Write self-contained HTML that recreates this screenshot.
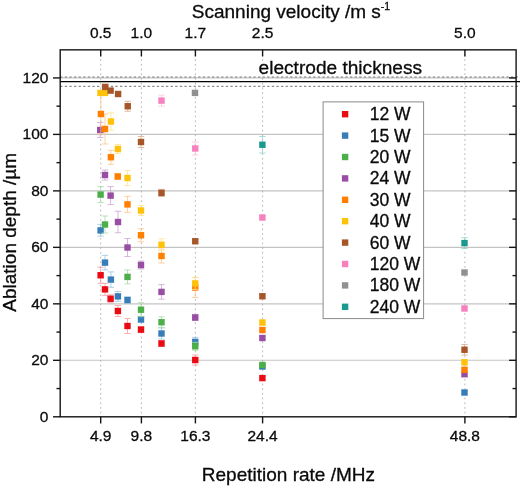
<!DOCTYPE html><html><head><meta charset="utf-8"><title>Ablation depth</title>
<style>html,body{margin:0;padding:0;background:#fff}svg{display:block}text{font-family:"Liberation Sans",Arial,sans-serif;fill:#0a0a0a;stroke:#0a0a0a;stroke-width:0.3px}</style></head><body>
<svg width="520" height="486" viewBox="0 0 520 486">
<rect width="520" height="486" fill="#fff"/>
<g stroke="#c4c4c4" stroke-width="1.1">
<line x1="60.2" x2="516.1" y1="360.32" y2="360.32"/>
<line x1="60.2" x2="516.1" y1="303.84" y2="303.84"/>
<line x1="60.2" x2="516.1" y1="247.36" y2="247.36"/>
<line x1="60.2" x2="516.1" y1="190.88" y2="190.88"/>
<line x1="60.2" x2="516.1" y1="134.40" y2="134.40"/>
<line x1="60.2" x2="516.1" y1="77.92" y2="77.92"/>
</g>
<g stroke="#a4a4a4" stroke-width="0.8" stroke-dasharray="1.7 3">
<line x1="100.7" x2="100.7" y1="49.85" y2="416.8"/>
<line x1="141.4" x2="141.4" y1="49.85" y2="416.8"/>
<line x1="195.4" x2="195.4" y1="49.85" y2="416.8"/>
<line x1="262.6" x2="262.6" y1="49.85" y2="416.8"/>
<line x1="464.9" x2="464.9" y1="49.85" y2="416.8"/>
</g>
<line x1="60.2" x2="520" y1="77.0" y2="77.0" stroke="#6a6a6a" stroke-width="0.9" stroke-dasharray="2.3 2.3"/>
<line x1="60.2" x2="520" y1="86.3" y2="86.3" stroke="#555" stroke-width="0.85" stroke-dasharray="2.3 2.3"/>
<line x1="60.2" x2="520" y1="81.6" y2="81.6" stroke="#000" stroke-width="1.45"/>
<g stroke="#f4a0a3" stroke-width="0.8" fill="none">
<path d="M100.6 267.25V283.25M97.40 267.25h6.4M97.40 283.25h6.4"/>
<path d="M105 283.40V295.40M101.80 283.40h6.4M101.80 295.40h6.4"/>
<path d="M110.6 294.75V302.75M107.40 294.75h6.4M107.40 302.75h6.4"/>
<path d="M117.9 305.50V316.50M114.70 305.50h6.4M114.70 316.50h6.4"/>
<path d="M127.5 318.50V333.50M124.30 318.50h6.4M124.30 333.50h6.4"/>
<path d="M141 326.60V332.60M137.80 326.60h6.4M137.80 332.60h6.4"/>
<path d="M161.5 340.50V346.50M158.30 340.50h6.4M158.30 346.50h6.4"/>
<path d="M195.25 355.00V365.00M192.05 355.00h6.4M192.05 365.00h6.4"/>
<path d="M262.4 376.10V380.10M259.20 376.10h6.4M259.20 380.10h6.4"/>
</g>
<g fill="#ea0a14">
<rect x="97.40" y="272.05" width="6.4" height="6.4"/>
<rect x="101.80" y="286.20" width="6.4" height="6.4"/>
<rect x="107.40" y="295.55" width="6.4" height="6.4"/>
<rect x="114.70" y="307.80" width="6.4" height="6.4"/>
<rect x="124.30" y="322.80" width="6.4" height="6.4"/>
<rect x="137.80" y="326.40" width="6.4" height="6.4"/>
<rect x="158.30" y="340.30" width="6.4" height="6.4"/>
<rect x="192.05" y="356.80" width="6.4" height="6.4"/>
<rect x="259.20" y="374.90" width="6.4" height="6.4"/>
</g>
<g stroke="#9cc4e4" stroke-width="0.8" fill="none">
<path d="M100.6 224.65V236.15M97.40 224.65h6.4M97.40 236.15h6.4"/>
<path d="M105 255.35V269.85M101.80 255.35h6.4M101.80 269.85h6.4"/>
<path d="M110.9 271.90V287.30M107.70 271.90h6.4M107.70 287.30h6.4"/>
<path d="M117.9 291.40V301.40M114.70 291.40h6.4M114.70 301.40h6.4"/>
<path d="M127.5 297.00V303.00M124.30 297.00h6.4M124.30 303.00h6.4"/>
<path d="M141 316.40V322.40M137.80 316.40h6.4M137.80 322.40h6.4"/>
<path d="M161.5 327.90V339.10M158.30 327.90h6.4M158.30 339.10h6.4"/>
<path d="M195.25 337.40V346.40M192.05 337.40h6.4M192.05 346.40h6.4"/>
<path d="M262.4 364.50V368.50M259.20 364.50h6.4M259.20 368.50h6.4"/>
<path d="M464.5 390.50V394.50M461.30 390.50h6.4M461.30 394.50h6.4"/>
</g>
<g fill="#377eb8">
<rect x="97.40" y="227.20" width="6.4" height="6.4"/>
<rect x="101.80" y="259.40" width="6.4" height="6.4"/>
<rect x="107.70" y="276.40" width="6.4" height="6.4"/>
<rect x="114.70" y="293.20" width="6.4" height="6.4"/>
<rect x="124.30" y="296.80" width="6.4" height="6.4"/>
<rect x="137.80" y="316.20" width="6.4" height="6.4"/>
<rect x="158.30" y="330.30" width="6.4" height="6.4"/>
<rect x="192.05" y="338.70" width="6.4" height="6.4"/>
<rect x="259.20" y="363.30" width="6.4" height="6.4"/>
<rect x="461.30" y="389.30" width="6.4" height="6.4"/>
</g>
<g stroke="#a8dba6" stroke-width="0.8" fill="none">
<path d="M100.6 186.60V202.60M97.40 186.60h6.4M97.40 202.60h6.4"/>
<path d="M105 216.00V233.00M101.80 216.00h6.4M101.80 233.00h6.4"/>
<path d="M127.5 269.90V283.90M124.30 269.90h6.4M124.30 283.90h6.4"/>
<path d="M141 302.70V316.70M137.80 302.70h6.4M137.80 316.70h6.4"/>
<path d="M161.5 316.85V327.65M158.30 316.85h6.4M158.30 327.65h6.4"/>
<path d="M195.25 342.25V350.25M192.05 342.25h6.4M192.05 350.25h6.4"/>
<path d="M262.4 363.00V367.00M259.20 363.00h6.4M259.20 367.00h6.4"/>
</g>
<g fill="#4daf4a">
<rect x="97.40" y="191.40" width="6.4" height="6.4"/>
<rect x="101.80" y="221.30" width="6.4" height="6.4"/>
<rect x="124.30" y="273.70" width="6.4" height="6.4"/>
<rect x="137.80" y="306.50" width="6.4" height="6.4"/>
<rect x="158.30" y="319.05" width="6.4" height="6.4"/>
<rect x="192.05" y="343.05" width="6.4" height="6.4"/>
<rect x="259.20" y="361.80" width="6.4" height="6.4"/>
</g>
<g stroke="#cfa5d6" stroke-width="0.8" fill="none">
<path d="M100.25 122.50V137.50M97.05 122.50h6.4M97.05 137.50h6.4"/>
<path d="M105 170.00V180.00M101.80 170.00h6.4M101.80 180.00h6.4"/>
<path d="M110.6 186.60V204.60M107.40 186.60h6.4M107.40 204.60h6.4"/>
<path d="M118 211.25V232.75M114.80 211.25h6.4M114.80 232.75h6.4"/>
<path d="M127.5 238.50V256.50M124.30 238.50h6.4M124.30 256.50h6.4"/>
<path d="M141 261.00V269.00M137.80 261.00h6.4M137.80 269.00h6.4"/>
<path d="M161.5 284.60V299.20M158.30 284.60h6.4M158.30 299.20h6.4"/>
<path d="M195.25 314.50V320.50M192.05 314.50h6.4M192.05 320.50h6.4"/>
<path d="M262.4 336.00V340.00M259.20 336.00h6.4M259.20 340.00h6.4"/>
<path d="M464.5 372.20V376.20M461.30 372.20h6.4M461.30 376.20h6.4"/>
</g>
<g fill="#984ea3">
<rect x="97.05" y="126.80" width="6.4" height="6.4"/>
<rect x="101.80" y="171.80" width="6.4" height="6.4"/>
<rect x="107.40" y="192.40" width="6.4" height="6.4"/>
<rect x="114.80" y="218.80" width="6.4" height="6.4"/>
<rect x="124.30" y="244.30" width="6.4" height="6.4"/>
<rect x="137.80" y="261.80" width="6.4" height="6.4"/>
<rect x="158.30" y="288.70" width="6.4" height="6.4"/>
<rect x="192.05" y="314.30" width="6.4" height="6.4"/>
<rect x="259.20" y="334.80" width="6.4" height="6.4"/>
<rect x="461.30" y="371.00" width="6.4" height="6.4"/>
</g>
<g stroke="#ffc48a" stroke-width="0.8" fill="none">
<path d="M100.9 94.00V134.00M97.70 94.00h6.4M97.70 134.00h6.4"/>
<path d="M105 114.00V144.00M101.80 114.00h6.4M101.80 144.00h6.4"/>
<path d="M110.9 150.25V164.25M107.70 150.25h6.4M107.70 164.25h6.4"/>
<path d="M117.75 173.50V179.50M114.55 173.50h6.4M114.55 179.50h6.4"/>
<path d="M127.5 196.40V212.40M124.30 196.40h6.4M124.30 212.40h6.4"/>
<path d="M141 228.75V241.75M137.80 228.75h6.4M137.80 241.75h6.4"/>
<path d="M161.5 249.00V263.00M158.30 249.00h6.4M158.30 263.00h6.4"/>
<path d="M195.25 277.50V297.50M192.05 277.50h6.4M192.05 297.50h6.4"/>
<path d="M262.4 328.00V332.00M259.20 328.00h6.4M259.20 332.00h6.4"/>
<path d="M464.5 367.80V371.80M461.30 367.80h6.4M461.30 371.80h6.4"/>
</g>
<g fill="#ff7f00">
<rect x="97.70" y="110.80" width="6.4" height="6.4"/>
<rect x="101.80" y="125.80" width="6.4" height="6.4"/>
<rect x="107.70" y="154.05" width="6.4" height="6.4"/>
<rect x="114.55" y="173.30" width="6.4" height="6.4"/>
<rect x="124.30" y="201.20" width="6.4" height="6.4"/>
<rect x="137.80" y="232.05" width="6.4" height="6.4"/>
<rect x="158.30" y="252.80" width="6.4" height="6.4"/>
<rect x="192.05" y="284.30" width="6.4" height="6.4"/>
<rect x="259.20" y="326.80" width="6.4" height="6.4"/>
<rect x="461.30" y="366.60" width="6.4" height="6.4"/>
</g>
<g stroke="#ffe38f" stroke-width="0.8" fill="none">
<path d="M100.5 90.90V94.90M97.30 90.90h6.4M97.30 94.90h6.4"/>
<path d="M105 90.90V94.90M101.80 90.90h6.4M101.80 94.90h6.4"/>
<path d="M110.9 112.90V130.10M107.70 112.90h6.4M107.70 130.10h6.4"/>
<path d="M117.9 144.50V153.50M114.70 144.50h6.4M114.70 153.50h6.4"/>
<path d="M127.5 170.50V185.50M124.30 170.50h6.4M124.30 185.50h6.4"/>
<path d="M141 205.50V215.50M137.80 205.50h6.4M137.80 215.50h6.4"/>
<path d="M161.5 238.75V250.75M158.30 238.75h6.4M158.30 250.75h6.4"/>
<path d="M195.25 277.40V289.40M192.05 277.40h6.4M192.05 289.40h6.4"/>
<path d="M262.4 320.50V324.50M259.20 320.50h6.4M259.20 324.50h6.4"/>
<path d="M464.5 359.80V364.80M461.30 359.80h6.4M461.30 364.80h6.4"/>
</g>
<g fill="#ffc20a">
<rect x="97.30" y="89.70" width="6.4" height="6.4"/>
<rect x="101.80" y="89.70" width="6.4" height="6.4"/>
<rect x="107.70" y="118.30" width="6.4" height="6.4"/>
<rect x="114.70" y="145.80" width="6.4" height="6.4"/>
<rect x="124.30" y="174.80" width="6.4" height="6.4"/>
<rect x="137.80" y="207.30" width="6.4" height="6.4"/>
<rect x="158.30" y="241.55" width="6.4" height="6.4"/>
<rect x="192.05" y="280.20" width="6.4" height="6.4"/>
<rect x="259.20" y="319.30" width="6.4" height="6.4"/>
<rect x="461.30" y="359.10" width="6.4" height="6.4"/>
</g>
<g stroke="#d9a98c" stroke-width="0.8" fill="none">
<path d="M105.25 84.90V88.90M102.05 84.90h6.4M102.05 88.90h6.4"/>
<path d="M110.6 88.60V92.60M107.40 88.60h6.4M107.40 92.60h6.4"/>
<path d="M118.1 92.00V96.00M114.90 92.00h6.4M114.90 96.00h6.4"/>
<path d="M127.75 101.25V111.25M124.55 101.25h6.4M124.55 111.25h6.4"/>
<path d="M141 136.50V147.50M137.80 136.50h6.4M137.80 147.50h6.4"/>
<path d="M161.5 189.40V196.40M158.30 189.40h6.4M158.30 196.40h6.4"/>
<path d="M195.25 239.25V243.25M192.05 239.25h6.4M192.05 243.25h6.4"/>
<path d="M262.4 294.25V298.25M259.20 294.25h6.4M259.20 298.25h6.4"/>
<path d="M464.5 344.45V355.05M461.30 344.45h6.4M461.30 355.05h6.4"/>
</g>
<g fill="#a65628">
<rect x="102.05" y="83.70" width="6.4" height="6.4"/>
<rect x="107.40" y="87.40" width="6.4" height="6.4"/>
<rect x="114.90" y="90.80" width="6.4" height="6.4"/>
<rect x="124.55" y="103.05" width="6.4" height="6.4"/>
<rect x="137.80" y="138.80" width="6.4" height="6.4"/>
<rect x="158.30" y="189.70" width="6.4" height="6.4"/>
<rect x="192.05" y="238.05" width="6.4" height="6.4"/>
<rect x="259.20" y="293.05" width="6.4" height="6.4"/>
<rect x="461.30" y="346.55" width="6.4" height="6.4"/>
</g>
<g stroke="#fbc4e2" stroke-width="0.8" fill="none">
<path d="M161.5 95.10V106.10M158.30 95.10h6.4M158.30 106.10h6.4"/>
<path d="M195.25 142.00V155.00M192.05 142.00h6.4M192.05 155.00h6.4"/>
<path d="M262.4 215.50V219.50M259.20 215.50h6.4M259.20 219.50h6.4"/>
<path d="M464.5 306.50V310.50M461.30 306.50h6.4M461.30 310.50h6.4"/>
</g>
<g fill="#f781bf">
<rect x="158.30" y="97.40" width="6.4" height="6.4"/>
<rect x="192.05" y="145.30" width="6.4" height="6.4"/>
<rect x="259.20" y="214.30" width="6.4" height="6.4"/>
<rect x="461.30" y="305.30" width="6.4" height="6.4"/>
</g>
<g stroke="#c8c8c8" stroke-width="0.8" fill="none">
<path d="M195 91.90V93.90M191.80 91.90h6.4M191.80 93.90h6.4"/>
<path d="M464.5 271.50V273.50M461.30 271.50h6.4M461.30 273.50h6.4"/>
</g>
<g fill="#909090">
<rect x="191.80" y="89.70" width="6.4" height="6.4"/>
<rect x="461.30" y="269.30" width="6.4" height="6.4"/>
</g>
<g stroke="#8fd3cc" stroke-width="0.8" fill="none">
<path d="M262.4 136.45V153.05M259.20 136.45h6.4M259.20 153.05h6.4"/>
<path d="M464.5 237.70V248.50M461.30 237.70h6.4M461.30 248.50h6.4"/>
</g>
<g fill="#1a9a8f">
<rect x="259.20" y="141.55" width="6.4" height="6.4"/>
<rect x="461.30" y="239.90" width="6.4" height="6.4"/>
</g>
<rect x="60.2" y="49.85" width="455.90" height="366.95" fill="none" stroke="#151515" stroke-width="1.4"/>
<g stroke="#151515" stroke-width="1.4">
<line x1="53.00" x2="60.2" y1="416.80" y2="416.80"/>
<line x1="509.10" x2="516.1" y1="416.80" y2="416.80"/>
<line x1="56.50" x2="60.2" y1="388.56" y2="388.56"/>
<line x1="512.50" x2="516.1" y1="388.56" y2="388.56"/>
<line x1="53.00" x2="60.2" y1="360.32" y2="360.32"/>
<line x1="509.10" x2="516.1" y1="360.32" y2="360.32"/>
<line x1="56.50" x2="60.2" y1="332.08" y2="332.08"/>
<line x1="512.50" x2="516.1" y1="332.08" y2="332.08"/>
<line x1="53.00" x2="60.2" y1="303.84" y2="303.84"/>
<line x1="509.10" x2="516.1" y1="303.84" y2="303.84"/>
<line x1="56.50" x2="60.2" y1="275.60" y2="275.60"/>
<line x1="512.50" x2="516.1" y1="275.60" y2="275.60"/>
<line x1="53.00" x2="60.2" y1="247.36" y2="247.36"/>
<line x1="509.10" x2="516.1" y1="247.36" y2="247.36"/>
<line x1="56.50" x2="60.2" y1="219.12" y2="219.12"/>
<line x1="512.50" x2="516.1" y1="219.12" y2="219.12"/>
<line x1="53.00" x2="60.2" y1="190.88" y2="190.88"/>
<line x1="509.10" x2="516.1" y1="190.88" y2="190.88"/>
<line x1="56.50" x2="60.2" y1="162.64" y2="162.64"/>
<line x1="512.50" x2="516.1" y1="162.64" y2="162.64"/>
<line x1="53.00" x2="60.2" y1="134.40" y2="134.40"/>
<line x1="509.10" x2="516.1" y1="134.40" y2="134.40"/>
<line x1="56.50" x2="60.2" y1="106.16" y2="106.16"/>
<line x1="512.50" x2="516.1" y1="106.16" y2="106.16"/>
<line x1="53.00" x2="60.2" y1="77.92" y2="77.92"/>
<line x1="509.10" x2="516.1" y1="77.92" y2="77.92"/>
<line x1="100.7" x2="100.7" y1="416.8" y2="423.40"/>
<line x1="100.7" x2="100.7" y1="49.85" y2="56.45"/>
<line x1="141.4" x2="141.4" y1="416.8" y2="423.40"/>
<line x1="141.4" x2="141.4" y1="49.85" y2="56.45"/>
<line x1="195.4" x2="195.4" y1="416.8" y2="423.40"/>
<line x1="195.4" x2="195.4" y1="49.85" y2="56.45"/>
<line x1="262.6" x2="262.6" y1="416.8" y2="423.40"/>
<line x1="262.6" x2="262.6" y1="49.85" y2="56.45"/>
<line x1="464.9" x2="464.9" y1="416.8" y2="423.40"/>
<line x1="464.9" x2="464.9" y1="49.85" y2="56.45"/>
</g>
<g font-size="15.5" text-anchor="end">
<text x="48.4" y="421.80">0</text>
<text x="48.4" y="365.32">20</text>
<text x="48.4" y="308.84">40</text>
<text x="48.4" y="252.36">60</text>
<text x="48.4" y="195.88">80</text>
<text x="48.4" y="139.40">100</text>
<text x="48.4" y="82.92">120</text>
</g>
<g font-size="15.5" text-anchor="middle">
<text x="100.7" y="441.3">4.9</text>
<text x="141.4" y="441.3">9.8</text>
<text x="195.4" y="441.3">16.3</text>
<text x="262.6" y="441.3">24.4</text>
<text x="464.9" y="441.3">48.8</text>
<text x="100.7" y="38.4">0.5</text>
<text x="141.4" y="38.4">1.0</text>
<text x="195.4" y="38.4">1.7</text>
<text x="262.6" y="38.4">2.5</text>
<text x="464.9" y="38.4">5.0</text>
</g>
<text x="191.8" y="17.5" font-size="19">Scanning velocity /m s<tspan font-size="10.5" dy="-7.5">-1</tspan></text>
<text x="201.8" y="481" font-size="19">Repetition rate /MHz</text>
<text transform="translate(16 311.7) rotate(-90)" font-size="19">Ablation depth /µm</text>
<text x="258.6" y="73.7" font-size="19.1">electrode thickness</text>
<rect x="323.1" y="101.9" width="100.5" height="216.7" fill="#fff" stroke="#8a8a8a" stroke-width="1"/>
<rect x="341.90" y="111.00" width="6.4" height="6.4" fill="#ea0a14"/>
<text x="369.8" y="120.20" font-size="17.5">12 W</text>
<rect x="341.90" y="132.40" width="6.4" height="6.4" fill="#377eb8"/>
<text x="369.8" y="141.60" font-size="17.5">15 W</text>
<rect x="341.90" y="153.80" width="6.4" height="6.4" fill="#4daf4a"/>
<text x="369.8" y="163.00" font-size="17.5">20 W</text>
<rect x="341.90" y="175.20" width="6.4" height="6.4" fill="#984ea3"/>
<text x="369.8" y="184.40" font-size="17.5">24 W</text>
<rect x="341.90" y="196.60" width="6.4" height="6.4" fill="#ff7f00"/>
<text x="369.8" y="205.80" font-size="17.5">30 W</text>
<rect x="341.90" y="218.00" width="6.4" height="6.4" fill="#ffc20a"/>
<text x="369.8" y="227.20" font-size="17.5">40 W</text>
<rect x="341.90" y="239.40" width="6.4" height="6.4" fill="#a65628"/>
<text x="369.8" y="248.60" font-size="17.5">60 W</text>
<rect x="341.90" y="260.80" width="6.4" height="6.4" fill="#f781bf"/>
<text x="369.8" y="270.00" font-size="17.5">120 W</text>
<rect x="341.90" y="282.20" width="6.4" height="6.4" fill="#909090"/>
<text x="369.8" y="291.40" font-size="17.5">180 W</text>
<rect x="341.90" y="303.60" width="6.4" height="6.4" fill="#1a9a8f"/>
<text x="369.8" y="312.80" font-size="17.5">240 W</text>
</svg></body></html>
